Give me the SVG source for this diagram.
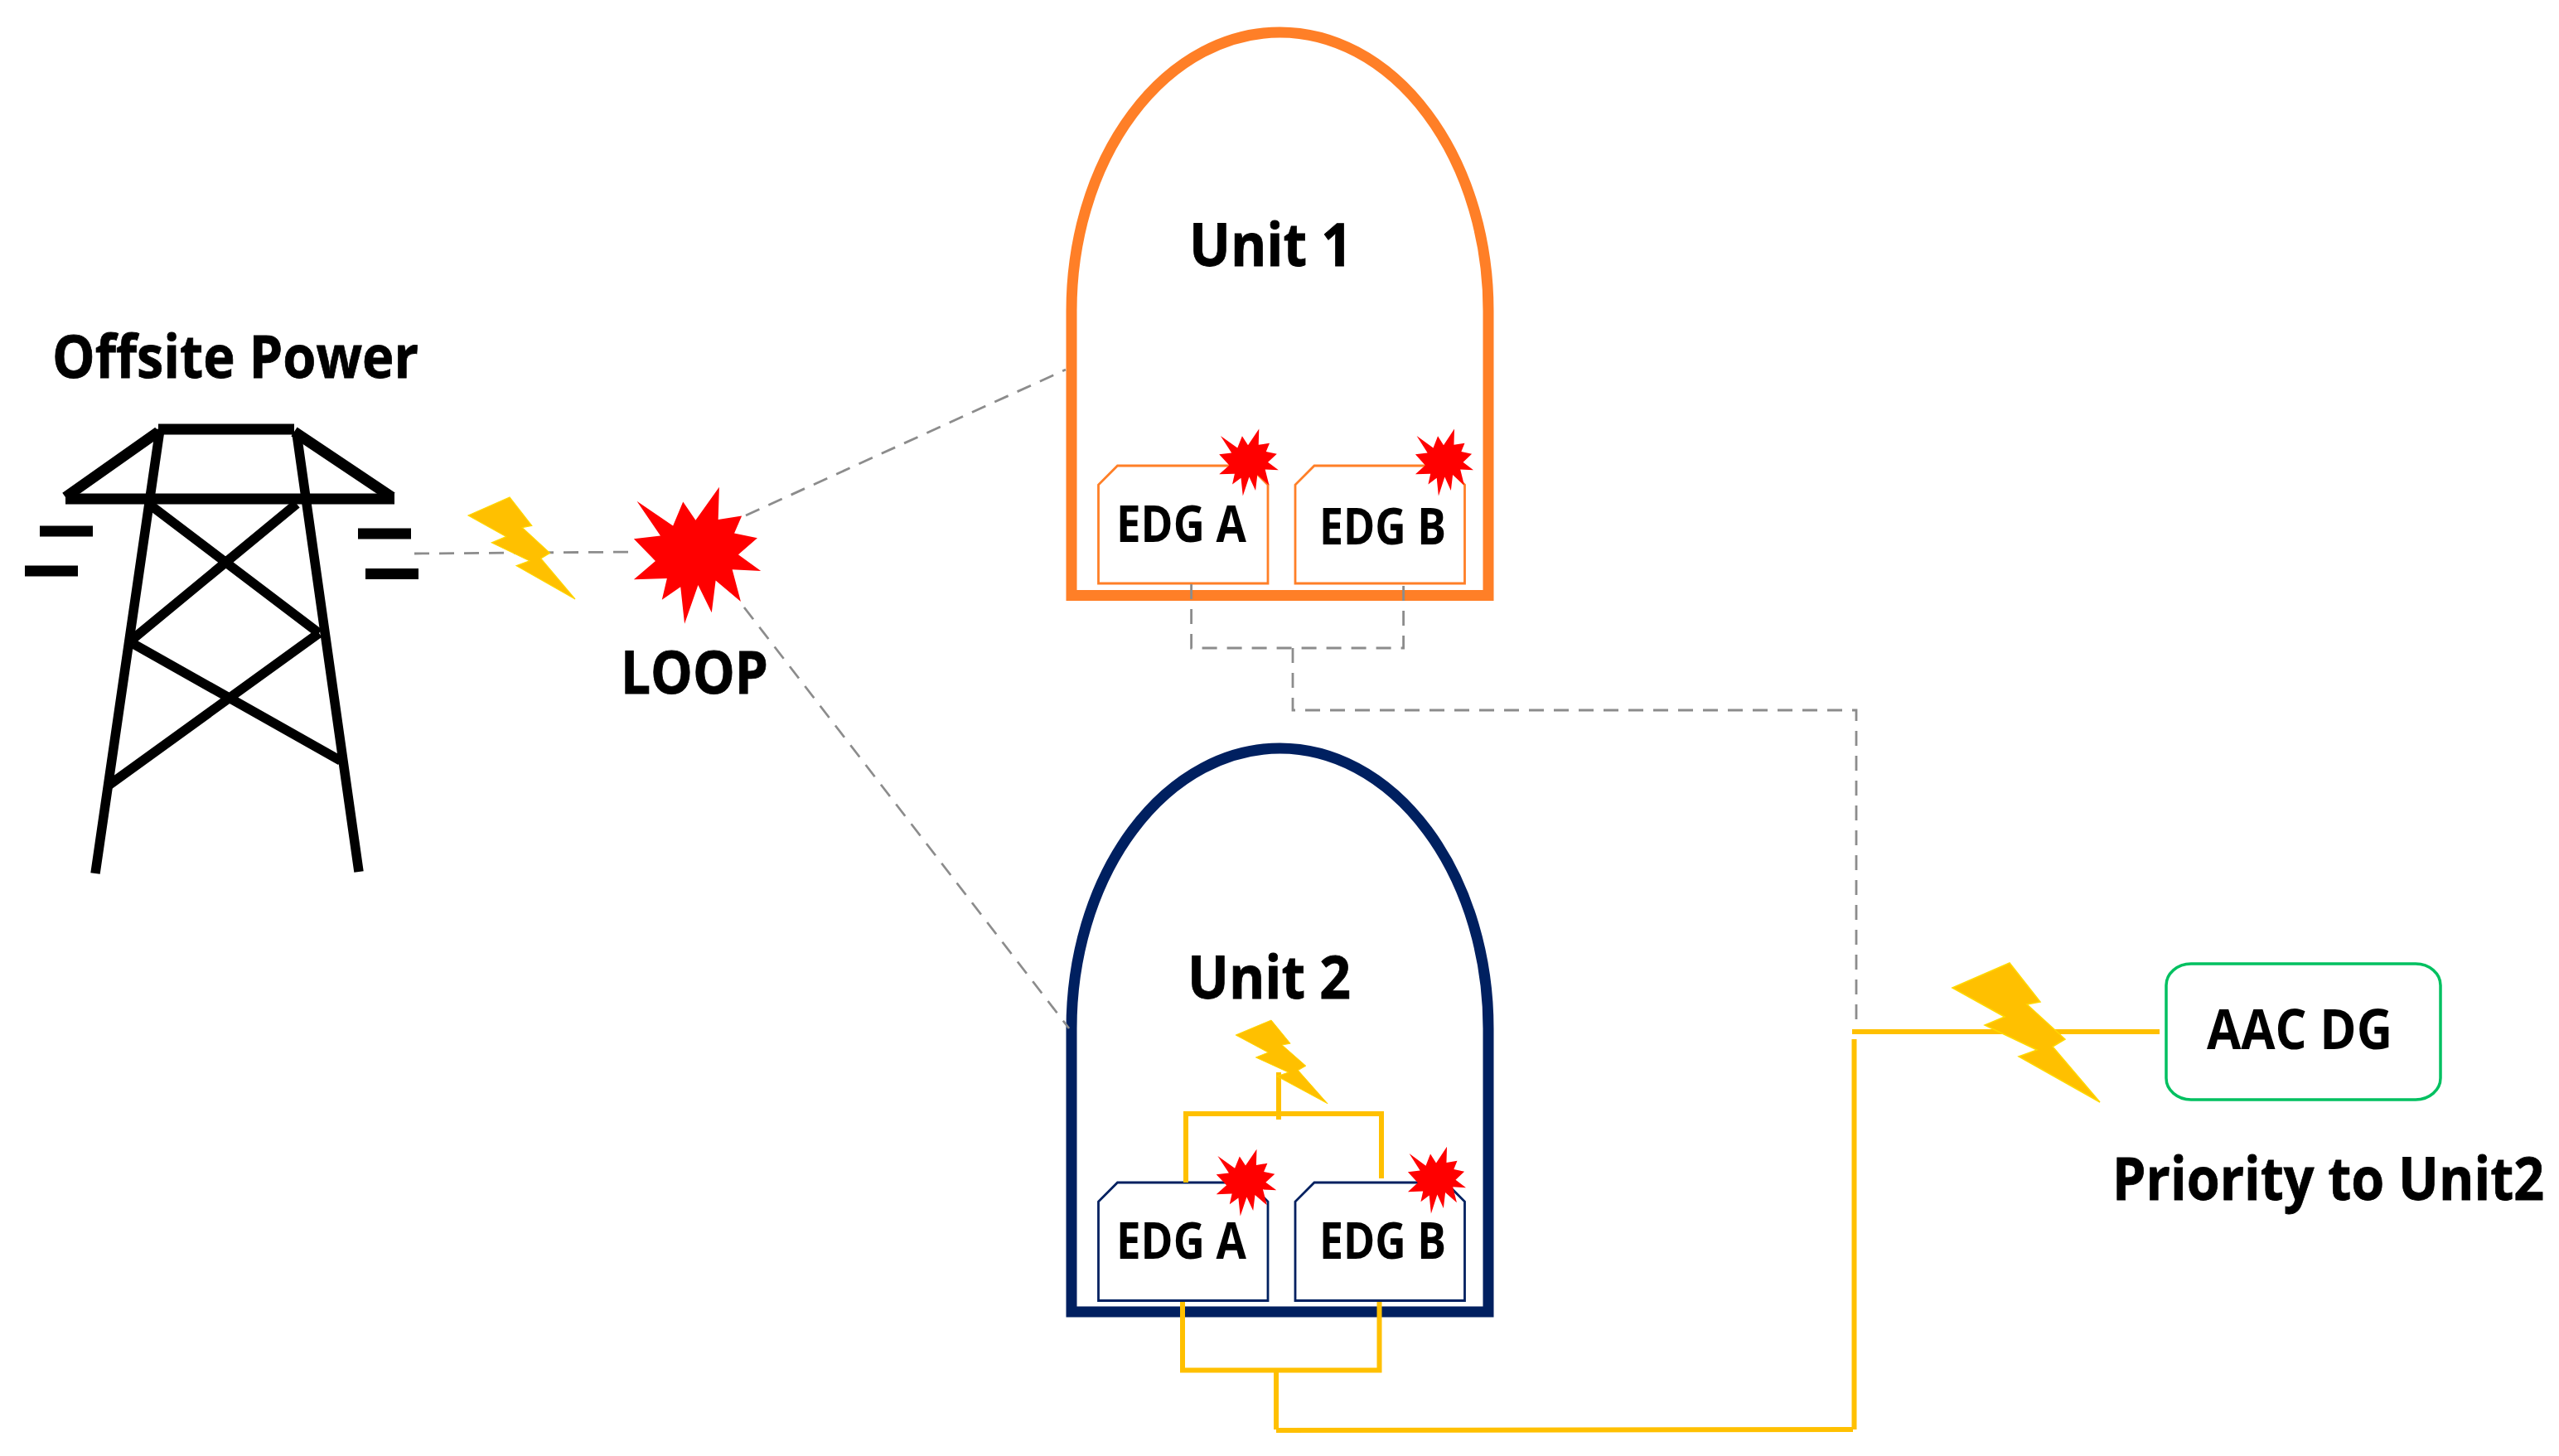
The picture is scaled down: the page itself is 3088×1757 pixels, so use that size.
<svg xmlns="http://www.w3.org/2000/svg" xmlns:xlink="http://www.w3.org/1999/xlink" width="3088" height="1757" viewBox="0 0 3088 1757">
<style>
text{font-family:"Open Sans","Liberation Sans",sans-serif;fill:#000}
.big{font-size:71px;font-weight:700;stroke:#000;stroke-width:.8}
.edg{font-size:61px;font-weight:700}
.dome{fill:none;stroke-width:13;stroke-miterlimit:10}
.box{fill:#fff;stroke-width:2.8}
.or{stroke:#ff7f27}.nv{stroke:#002060}
.tw{stroke:#000;fill:none}
.y{fill:none;stroke:#ffc000;stroke-width:6}
.d{fill:none;stroke:#8c8c8c;stroke-width:2.8;stroke-dasharray:18 12}
.bolt{fill:#ffc000;stroke:#ffd800;stroke-width:1.5}
.burst{fill:#f00}
</style>
<defs>
<polygon id="boltShape" points="0,30 69,0 106,47 90,50 136,92 121,101 178,168 80,113 102,105 39,75 63,65"/>
<polygon id="burstShape" points="-117,-142 -45,-75 -25,-140 0,-90 47,-180 45,-92 92,-102 77,-55 123,-42 85,3 130,47 73,43 90,130 40,73 32,160 5,85 -22,190 -30,90 -67,125 -57,67 -123,70 -80,20 -123,-40 -70,-48"/>
</defs>
<rect width="3088" height="1757" fill="#fff"/>
<g id="tower">
<g class="tw" stroke-width="13">
<path d="M191,518H355M79,602H476M48,641H112M30,689H94M432,644H496M441,692.500H505"/>
<path d="M79,600L191,521M355,521L473,600"/>
</g>
<g class="tw" stroke-width="11.500">
<path d="M193,518L115,1054M358,523L433,1052"/>
<path d="M182,610L385,764M358,608L158,773M161,777L411,918M385,764L132,947"/>
</g>
<text class="big" x="63" y="456" textLength="442" lengthAdjust="spacingAndGlyphs">Offsite Power</text>
</g>
<g id="unit1">
<path class="dome or" d="M1293,718.500V375A251.500,336 0 0 1 1796,375V718.500Z"/>
<text class="big" x="1435" y="321" textLength="197" lengthAdjust="spacingAndGlyphs">Unit 1</text>
</g>
<g id="unit1-edg-a">
<path class="box or" d="M1325.500,704V585L1348.500,562H1507L1530,585V704Z"/>
<text class="edg" x="1347" y="654" textLength="157" lengthAdjust="spacingAndGlyphs">EDG A</text>
<use href="#burstShape" class="burst" transform="translate(1506,557) scale(.283,.219)"/>
</g>
<g id="unit1-edg-b">
<path class="box or" d="M1563,704V585L1586,562H1744.500L1767.500,585V704Z"/>
<text class="edg" x="1592" y="657" textLength="153" lengthAdjust="spacingAndGlyphs">EDG B</text>
<use href="#burstShape" class="burst" transform="translate(1742,557) scale(.277,.219)"/>
</g>
<g id="unit2">
<path class="dome nv" d="M1293,1583V1241A251.500,338 0 0 1 1796,1241V1583Z"/>
<text class="big" x="1433" y="1205" textLength="197" lengthAdjust="spacingAndGlyphs">Unit 2</text>
</g>
<g id="unit2-edg-a">
<path class="box nv" d="M1325.500,1569.500V1450L1348.500,1427H1507L1530,1450V1569.500Z"/>
<text class="edg" x="1347" y="1519" textLength="157" lengthAdjust="spacingAndGlyphs">EDG A</text>
<use href="#burstShape" class="burst" transform="translate(1503,1426) scale(.287,.218)"/>
</g>
<g id="unit2-edg-b">
<path class="box nv" d="M1563,1569.500V1450L1586,1427H1744.500L1767.500,1450V1569.500Z"/>
<text class="edg" x="1592" y="1519" textLength="153" lengthAdjust="spacingAndGlyphs">EDG B</text>
<use href="#burstShape" class="burst" transform="translate(1733,1423) scale(.277,.218)"/>
</g>
<g id="aac-dg">
<rect x="2614" y="1163" width="331" height="164" rx="30" ry="26" fill="#fff" stroke="#00c060" stroke-width="3.500"/>
<text class="edg" x="2663" y="1266" style="font-size:66px" textLength="224" lengthAdjust="spacingAndGlyphs">AAC DG</text>
<text class="big" transform="translate(2549,1448) scale(.87,1)" x="0" y="0" textLength="599" lengthAdjust="spacingAndGlyphs">Priority to Unit2</text>
</g>
<g id="connectors">
<path class="d" d="M500,668L767,666"/>
<path class="d" d="M900,622L1286,446"/>
<path class="d" d="M898,733L1290,1241"/>
<path class="d" d="M1437.600,705V782H1693.600V705"/>
<path class="d" d="M1560,782V857H2240V1240"/>
<path class="y" d="M1431,1427V1344H1667V1422"/>
<path class="y" d="M1543,1294V1351"/>
<path class="y" d="M1427,1571V1653.500H1664.500V1571"/>
<path class="y" d="M1540,1656V1725"/>
<path class="y" d="M1540,1726L2236,1725"/>
<path class="y" d="M2237.500,1725V1254"/>
<path class="y" d="M2235,1245H2606"/>
</g>
<g id="loop">
<use href="#burstShape" class="burst" transform="translate(839.400,668) scale(.606,.446)"/>
<text class="big" x="749" y="837" textLength="178" lengthAdjust="spacingAndGlyphs">LOOP</text>
</g>
<g id="fault-offsite"><use href="#boltShape" class="bolt" transform="translate(565,600) scale(.725,.732)"/></g>
<g id="fault-unit2"><use href="#boltShape" class="bolt" transform="translate(1491,1231) scale(.624,.6)"/></g>
<g id="fault-aac"><use href="#boltShape" class="bolt" transform="translate(2356,1162)"/></g>
</svg>
